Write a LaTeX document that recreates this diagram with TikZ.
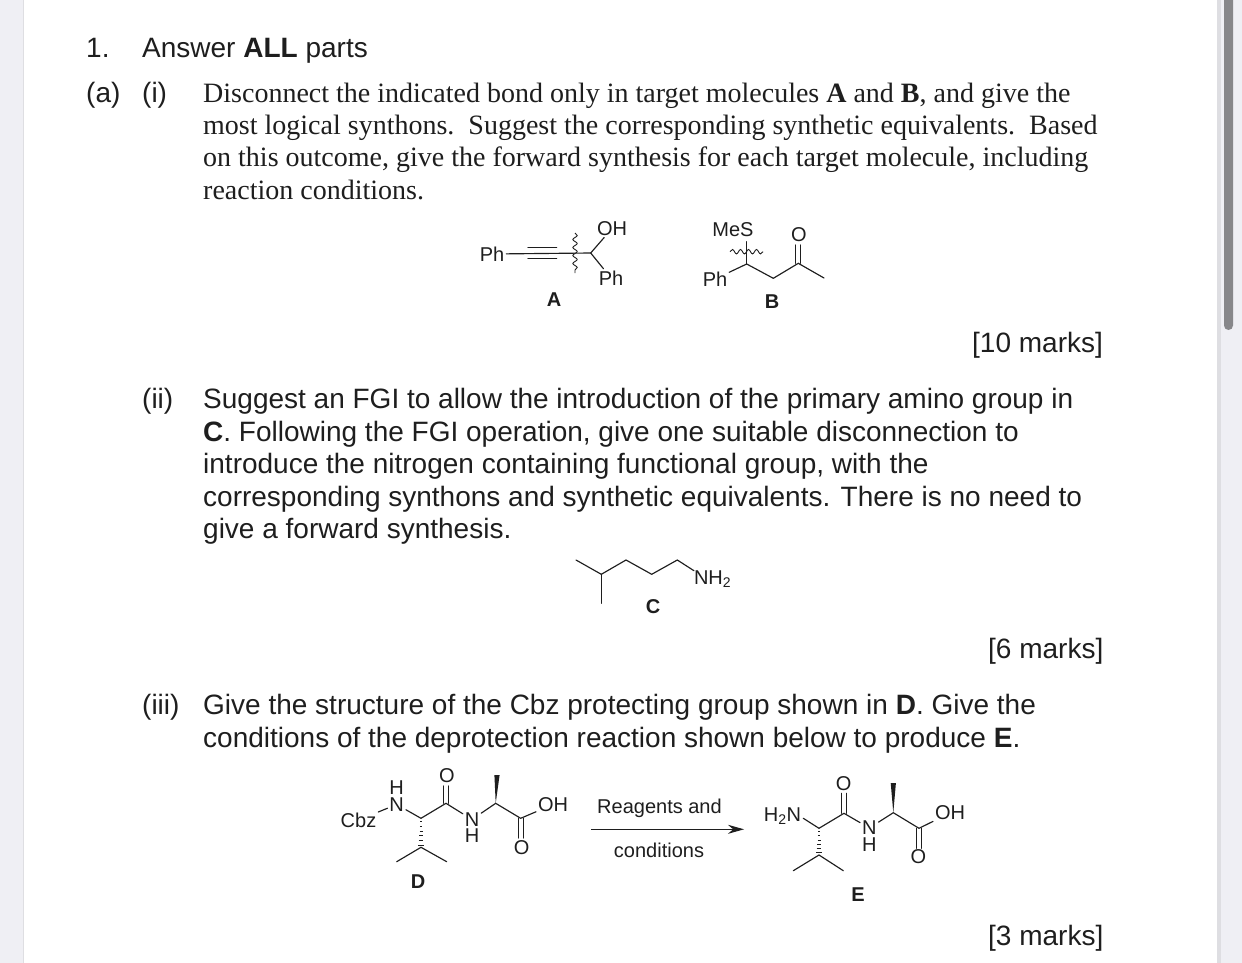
\documentclass[tikz,border=0pt]{standalone}
\usepackage{fontspec}
\setmainfont{Liberation Serif}
\setsansfont{Liberation Sans}
\usetikzlibrary{arrows.meta,decorations.pathmorphing,calc}
\definecolor{ink}{HTML}{1E1E1E}
\definecolor{pagebg}{HTML}{EFEFF4}
\definecolor{edge}{HTML}{DEDEE2}
\definecolor{thumb}{HTML}{87878A}
\tikzset{
  sans/.style={anchor=base west,inner sep=0pt,text=ink,font=\sffamily\fontsize{28}{32}\selectfont},
  serif/.style={anchor=base west,inner sep=0pt,text=ink,font=\rmfamily\fontsize{28}{32}\selectfont},
  atom/.style={inner sep=0pt,outer sep=2pt,text=ink,font=\sffamily\fontsize{20}{22}\selectfont},
  tag/.style={inner sep=0pt,text=ink,font=\sffamily\bfseries\fontsize{20}{22}\selectfont},
  bond/.style={draw=ink,line width=1.15pt,line cap=round},
  wavy/.style={draw=ink,line width=0.9pt,decorate,decoration={snake,amplitude=2.2pt,segment length=8pt}},
}
\newcommand{\wedgebond}[2]{\fill[ink] (#1) -- ([xshift=-2.6pt]#2) -- ([xshift=2.6pt]#2) -- cycle;}
\newcommand{\hashbond}[2]{\foreach \t/\w in {0.12/0.7,0.28/1.1,0.44/1.5,0.60/1.9,0.76/2.3,0.92/2.7}{\draw[ink,line width=0.8pt] ($(#1)!\t!(#2)+(-\w,0)$) -- ($(#1)!\t!(#2)+(\w,0)$);}}
\newcommand{\dbl}[2]{\draw[bond] ([xshift=-2.6pt]#1) -- ([xshift=-2.6pt]#2); \draw[bond] ([xshift=2.6pt]#1) -- ([xshift=2.6pt]#2);}
\begin{document}
\begin{tikzpicture}[x=1pt,y=-1pt]
\useasboundingbox (0,0) rectangle (1242,963);
% page chrome
\fill[pagebg] (0,0) rectangle (1242,963);
\fill[white] (24,0) rectangle (1217,963);
\fill[edge] (22.5,0) rectangle (24,963);
\fill[edge] (1217,0) rectangle (1221,963);
\fill[thumb] (1224,0) -- (1224,325.5) arc[start angle=180,end angle=0,radius=4.5] -- (1233,0) -- cycle;
% text
\node[sans] (t1) at (86,58) {1.};
\node[sans] (t2) at (142,58) {Answer \textbf{ALL} parts};
\node[sans] (t3) at (86,102.5) {(a)};
\node[sans] (t4) at (142,102.5) {(i)};
\node[serif] (l1) at (203,102.5) {Disconnect the indicated bond only in target molecules \textbf{A} and \textbf{B}, and give the};
\node[serif] (l2) at (203,134.5) {most logical synthons.\ \ Suggest the corresponding synthetic equivalents.\ \ Based};
\node[serif] (l3) at (203,166.5) {on this outcome, give the forward synthesis for each target molecule, including};
\node[serif] (l4) at (203,199) {reaction conditions.};
\node[sans] (m1) at (972,352) {[10 marks]};
\node[sans] (t5) at (142,408) {(ii)};
\node[sans] (s1) at (203,408) {Suggest an FGI to allow the introduction of the primary amino group in};
\node[sans] (s2) at (203,441) {\textbf{C}. Following the FGI operation, give one suitable disconnection to};
\node[sans] (s3) at (203,473.5) {introduce the nitrogen containing functional group, with the};
\node[sans] (s4) at (203,506) {corresponding synthons and synthetic equivalents. There is no need to};
\node[sans] (s5) at (203,538) {give a forward synthesis.};
\node[sans] (m2) at (988,658) {[6 marks]};
\node[sans] (t6) at (142,714.5) {(iii)};
\node[sans] (u1) at (203,714.5) {Give the structure of the Cbz protecting group shown in \textbf{D}. Give the};
\node[sans] (u2) at (203,747) {conditions of the deprotection reaction shown below to produce \textbf{E}.};
\node[sans] (m3) at (988,945) {[3 marks]};
% molecule A
\node[atom] (aPh) at (492,254) {Ph};
\node[atom] (aOH) at (612,228.5) {OH};
\node[atom] (aPh2) at (611,278) {Ph};
\node[tag] (aL) at (554,300) {A};
\coordinate (a1) at (528,253);
\coordinate (a2) at (556.7,253);
\coordinate (a3) at (590.7,253);
\coordinate (aw1) at (575,233);
\coordinate (aw2) at (575,273);
\draw[bond] (aPh) -- (a3);
\draw[bond] ([yshift=5.3pt]a1) -- ([yshift=5.3pt]a2);
\draw[bond] ([yshift=-5.3pt]a1) -- ([yshift=-5.3pt]a2);
\draw[bond] (a3) -- (aOH);
\draw[bond] (a3) -- (aPh2);
\draw[wavy] (aw1) -- (aw2);
% molecule B
\node[atom] (bMeS) at (733,230) {MeS};
\node[atom] (bPh) at (715,279) {Ph};
\node[atom] (bO) at (799,235) {O};
\node[tag] (bL) at (772,302) {B};
\coordinate (b1) at (746.7,264);
\coordinate (b0) at (746.7,241.7);
\coordinate (b2) at (773.3,278.3);
\coordinate (b3) at (798.3,263.3);
\coordinate (b4) at (824,278);
\coordinate (b5) at (798.3,245);
\coordinate (bw1) at (730,251.7);
\coordinate (bw2) at (763,251.7);
\draw[bond] (b0) -- (b1);
\draw[bond] (bPh) -- (b1);
\draw[bond] (b1) -- (b2) -- (b3) -- (b4);
\dbl{b3}{b5}
\draw[wavy] (bw1) -- (bw2);
% molecule C
\node[atom,anchor=base west,inner sep=0pt,outer sep=0pt] (cN) at (694,584.5) {NH\textsubscript{2}};
\node[tag] (cL) at (653,607) {C};
\coordinate (c1) at (576,560);
\coordinate (c2) at (601.3,574.3);
\coordinate (c3) at (601.3,603.3);
\coordinate (c4) at (626,560);
\coordinate (c5) at (651.7,574.3);
\coordinate (c6) at (677.3,560);
\draw[bond] (c1) -- (c2) -- (c4) -- (c5) -- (c6) -- (cN.north west);
\draw[bond] (c2) -- (c3);
% molecule D
\node[atom] (dCbz) at (358.5,820) {Cbz};
\node[atom] (dN1) at (396.7,804.5) {N};
\node[atom] (dH1) at (396.7,788) {H};
\node[atom] (dO1) at (447,776) {O};
\node[atom] (dN2) at (472,819.5) {N};
\node[atom] (dH2) at (472,836) {H};
\node[atom] (dOH) at (553,804.5) {OH};
\node[atom] (dO2) at (521.7,848) {O};
\node[tag] (dL) at (418,882) {D};
\coordinate (d1) at (421,818.3);
\coordinate (d2) at (446,803.3);
\coordinate (d3) at (446,786);
\coordinate (d4) at (495.7,803.3);
\coordinate (d5) at (497,775);
\coordinate (d6) at (520.7,818.3);
\coordinate (d7) at (520.7,838);
\coordinate (d8) at (421,847.3);
\coordinate (d9) at (396.7,861.7);
\coordinate (d10) at (446.7,861.7);
\draw[bond] (dCbz) -- (dN1);
\draw[bond] (dN1) -- (d1) -- (d2) -- (dN2) -- (d4) -- (d6) -- (dOH);
\dbl{d2}{d3}
\dbl{d6}{d7}
\wedgebond{d4}{d5}
\hashbond{d1}{d8}
\draw[bond] (d9) -- (d8) -- (d10);
% arrow
\node[atom] (rT) at (659.5,808) {Reagents and};
\node[atom] (rB) at (659,850) {conditions};
\coordinate (r1) at (591,829.3);
\coordinate (r2) at (744,829.3);
\draw[draw=ink,line width=1.1pt,-{Stealth[length=16pt,width=9pt]}] (r1) -- (r2);
% molecule E
\node[atom,anchor=base] (eN) at (782.5,821) {H\textsubscript{2}N};
\node[atom] (eO1) at (843.7,783.3) {O};
\node[atom] (eN2) at (869.3,828) {N};
\node[atom] (eH2) at (869.3,845) {H};
\node[atom] (eOH) at (950,813) {OH};
\node[atom] (eO2) at (918.3,856.7) {O};
\node[tag] (eL) at (858,895) {E};
\coordinate (e0) at (803.3,818.3);
\coordinate (e1) at (819,828.3);
\coordinate (e2) at (844,813.3);
\coordinate (e3) at (844,793.3);
\coordinate (e4) at (893.3,812.7);
\coordinate (e5) at (893.3,783);
\coordinate (e6) at (919,828.3);
\coordinate (e7) at (919,848.3);
\coordinate (e8) at (819,855);
\coordinate (e9) at (793.3,870.7);
\coordinate (e10) at (843.3,870.7);
\draw[bond] (e0) -- (e1) -- (e2) -- (eN2) -- (e4) -- (e6) -- (eOH);
\dbl{e2}{e3}
\dbl{e6}{e7}
\wedgebond{e4}{e5}
\hashbond{e1}{e8}
\draw[bond] (e9) -- (e8) -- (e10);
\end{tikzpicture}
\end{document}
